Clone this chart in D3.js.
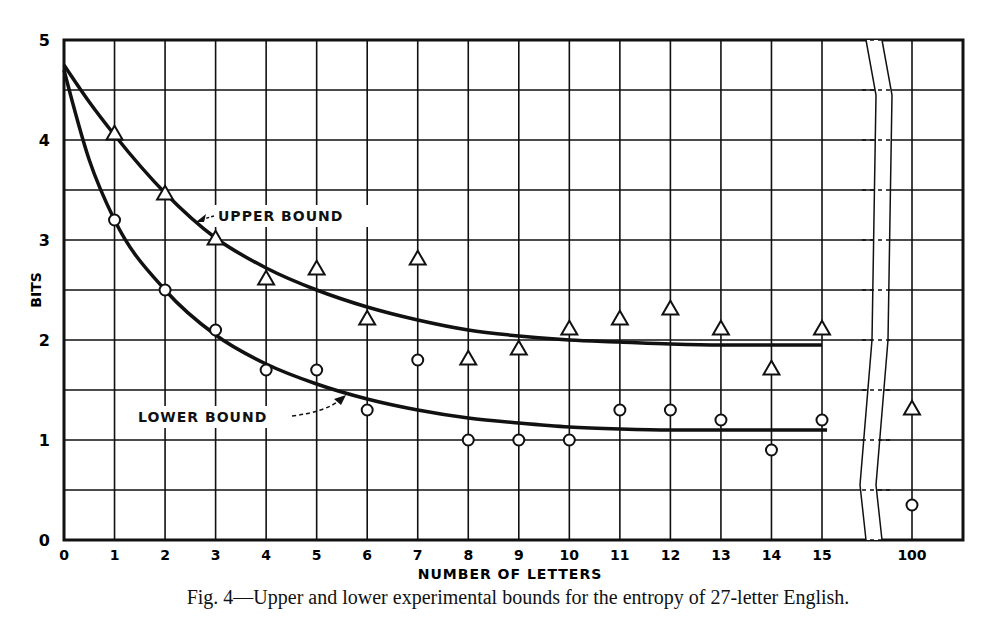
<!DOCTYPE html>
<html>
<head>
<meta charset="UTF-8">
<script src="https://d3js.org/d3.v7.min.js"></script>
<style>body{margin:0;background:#fff}</style>
</head>
<body>
<svg></svg>
<script>
  // data
  let letters = [1, 2, 3, 4, 5, 6, 7, 8, 9, 10, 11, 12, 13, 14, 15];
  let upperPts = [4.05, 3.45, 3.0, 2.6, 2.7, 2.2, 2.8, 1.8, 1.9, 2.1, 2.2, 2.3, 2.1, 1.7, 2.1];
  let lowerPts = [3.2, 2.5, 2.1, 1.7, 1.7, 1.3, 1.8, 1.0, 1.0, 1.0, 1.3, 1.3, 1.2, 0.9, 1.2];
  let upper100 = 1.3, lower100 = 0.35;
  let curveX = [0, 0.5, 1, 2, 3, 4, 5, 6, 7, 8, 9, 10, 11, 12, 13, 14, 15];
  let upperCurve = [4.75, 4.38, 4.05, 3.47, 3.02, 2.72, 2.5, 2.33, 2.2, 2.1, 2.04, 2.0, 1.98, 1.96, 1.95, 1.95, 1.95];
  let lowerCurve = [4.7, 3.8, 3.2, 2.5, 2.05, 1.76, 1.56, 1.41, 1.3, 1.22, 1.17, 1.13, 1.11, 1.1, 1.1, 1.1, 1.1];
  let xTicks = [0, 1, 2, 3, 4, 5, 6, 7, 8, 9, 10, 11, 12, 13, 14, 15];
  let yTicks = [0, 1, 2, 3, 4, 5];

  let width = 996, height = 634;
  let svg = d3.select("svg").attr("width", width).attr("height", height);

  let x = d3.scaleLinear().domain([0, 15]).range([64, 822]);
  let x100 = 912;
  let y = d3.scaleLinear().domain([0, 5]).range([540, 40]);
  let left = 64, right = 963;
  let ink = "#111";

  // grid
  let g = svg.append("g").attr("stroke", ink).attr("stroke-width", 1.6);
  d3.range(0, 5.01, 0.5).forEach(v => {
    g.append("line").attr("x1", left).attr("x2", right).attr("y1", y(v)).attr("y2", y(v));
  });
  xTicks.concat([null]).forEach(v => {
    let px = v === null ? x100 : x(v);
    g.append("line").attr("x1", px).attr("x2", px).attr("y1", y(0)).attr("y2", y(5));
  });
  svg.append("rect").attr("x", left).attr("y", y(5)).attr("width", right - left).attr("height", y(0) - y(5))
    .attr("fill", "none").attr("stroke", ink).attr("stroke-width", 3);

  // axis break
  let brk = [[866, 40], [876, 95], [872, 340], [860, 485], [866, 540]];
  let gap = 16;
  svg.append("polygon")
    .attr("points", brk.map(p => p.join(",")).concat(brk.slice().reverse().map(p => [p[0] + gap, p[1]].join(","))).join(" "))
    .attr("fill", "#fff");
  d3.range(0, 5.01, 0.5).forEach(v => {
    svg.append("line").attr("x1", 862).attr("x2", 892).attr("y1", y(v)).attr("y2", y(v))
      .attr("stroke", ink).attr("stroke-width", 1.4).attr("stroke-dasharray", "4,4");
  });
  [0, gap].forEach(o => {
    svg.append("polyline").attr("points", brk.map(p => [p[0] + o, p[1]].join(",")).join(" "))
      .attr("fill", "none").attr("stroke", ink).attr("stroke-width", 1.5);
  });

  // curves
  let line = d3.line().x(d => x(d[0])).y(d => y(d[1])).curve(d3.curveMonotoneX);
  svg.append("path").attr("d", line(curveX.map((v, i) => [v, upperCurve[i]])))
    .attr("fill", "none").attr("stroke", ink).attr("stroke-width", 3.5);
  svg.append("path").attr("d", line(curveX.map((v, i) => [v, lowerCurve[i]]).concat([[15.1, 1.1]])))
    .attr("fill", "none").attr("stroke", ink).attr("stroke-width", 3.5);

  // labels with white boxes
  function label(tx, ty, w, txt) {
    svg.append("rect").attr("x", tx - 4).attr("y", ty - 16).attr("width", w).attr("height", 22).attr("fill", "#fff");
    svg.append("text").attr("x", tx).attr("y", ty).attr("font-family", "DejaVu Sans").attr("font-weight", "bold")
      .attr("font-size", 14).attr("letter-spacing", 1).attr("fill", ink).text(txt);
  }
  label(218, 221, 178, "UPPER BOUND");
  label(138, 422, 150, "LOWER BOUND");
  svg.append("line").attr("x1", 214).attr("y1", 216).attr("x2", 200).attr("y2", 220)
    .attr("stroke", ink).attr("stroke-width", 1.5).attr("stroke-dasharray", "3,2");
  svg.append("path").attr("d", "M196,222 L206,214 L204,222 Z").attr("fill", ink);
  svg.append("path").attr("d", "M292,416 Q325,412 340,400").attr("fill", "none")
    .attr("stroke", ink).attr("stroke-width", 1.5).attr("stroke-dasharray", "4,3");
  svg.append("path").attr("d", "M346,395 L334,399 L341,405 Z").attr("fill", ink);

  // points
  let tri = d3.symbol().type(d3.symbolTriangle).size(110);
  let pts = svg.append("g").attr("fill", "#fff").attr("stroke", ink).attr("stroke-width", 2);
  letters.forEach((l, i) => {
    pts.append("path").attr("d", tri()).attr("transform", `translate(${x(l)},${y(upperPts[i])})`);
    pts.append("circle").attr("cx", x(l)).attr("cy", y(lowerPts[i])).attr("r", 5.5);
  });
  pts.append("path").attr("d", tri()).attr("transform", `translate(${x100},${y(upper100)})`);
  pts.append("circle").attr("cx", x100).attr("cy", y(lower100)).attr("r", 5.5);

  // tick labels
  svg.append("g").selectAll("text").data(xTicks).join("text")
    .attr("x", d => x(d)).attr("y", 560).attr("text-anchor", "middle")
    .attr("font-family", "DejaVu Sans").attr("font-weight", "bold").attr("font-size", 14).text(d => d);
  svg.append("text").attr("x", x100).attr("y", 560).attr("text-anchor", "middle")
    .attr("font-family", "DejaVu Sans").attr("font-weight", "bold").attr("font-size", 14).text("100");
  svg.append("g").selectAll("text").data(yTicks).join("text")
    .attr("x", 50).attr("y", d => y(d) + 6).attr("text-anchor", "end")
    .attr("font-family", "DejaVu Sans").attr("font-weight", "bold").attr("font-size", 16).text(d => d);

  svg.append("text").attr("x", 510).attr("y", 579).attr("text-anchor", "middle")
    .attr("font-family", "DejaVu Sans").attr("font-weight", "bold").attr("font-size", 14).attr("letter-spacing", 1)
    .text("NUMBER OF LETTERS");
  svg.append("text").attr("transform", "translate(41,290) rotate(-90)").attr("text-anchor", "middle")
    .attr("font-family", "DejaVu Sans").attr("font-weight", "bold").attr("font-size", 14).text("BITS");
  svg.append("text").attr("x", 518).attr("y", 604).attr("text-anchor", "middle")
    .attr("font-family", "Liberation Serif").attr("font-size", 20).attr("fill", ink)
    .text("Fig. 4\u2014Upper and lower experimental bounds for the entropy of 27-letter English.");
</script>
</body>
</html>
